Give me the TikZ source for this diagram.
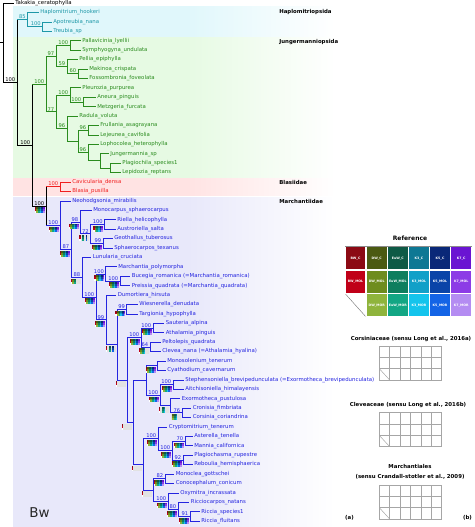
\documentclass[tikz,border=0pt]{standalone}
\usepackage{fontspec}
\setmainfont{DejaVu Sans}
\usetikzlibrary{calc}
\definecolor{hapc}{HTML}{1E98A8}
\definecolor{junc}{HTML}{2A8C1E}
\definecolor{blac}{HTML}{F02020}
\definecolor{marc}{HTML}{2424E0}
\definecolor{hapb}{HTML}{E0F7FB}
\definecolor{junb}{HTML}{E6FAE3}
\definecolor{blab}{HTML}{FFE3E3}
\definecolor{marb}{HTML}{E8E8FA}
\definecolor{icbg}{HTML}{E2E2E2}
\definecolor{ic11}{HTML}{8C0A14}\definecolor{ic12}{HTML}{C00018}\definecolor{ic13}{HTML}{FFFFFF}
\definecolor{ic21}{HTML}{4B5A12}\definecolor{ic22}{HTML}{6E8C1E}\definecolor{ic23}{HTML}{8FB43C}
\definecolor{ic31}{HTML}{0E5A46}\definecolor{ic32}{HTML}{0E7E5E}\definecolor{ic33}{HTML}{12A684}
\definecolor{ic41}{HTML}{0E7894}\definecolor{ic42}{HTML}{12A0C8}\definecolor{ic43}{HTML}{14C4EC}
\definecolor{ic51}{HTML}{0A2878}\definecolor{ic52}{HTML}{0A44A8}\definecolor{ic53}{HTML}{1464E6}
\definecolor{ic61}{HTML}{6A14D2}\definecolor{ic62}{HTML}{8C3CE6}\definecolor{ic63}{HTML}{B48CF2}
\pgfdeclarehorizontalshading{hapfade}{100bp}{color(0bp)=(hapb); color(52bp)=(hapb); color(75bp)=(white); color(100bp)=(white)}
\pgfdeclarehorizontalshading{junfade}{100bp}{color(0bp)=(junb); color(52bp)=(junb); color(75bp)=(white); color(100bp)=(white)}
\pgfdeclarehorizontalshading{blafade}{100bp}{color(0bp)=(blab); color(52bp)=(blab); color(75bp)=(white); color(100bp)=(white)}
\pgfdeclarehorizontalshading{marfade}{100bp}{color(0bp)=(marb); color(52bp)=(marb); color(75bp)=(white); color(100bp)=(white)}
\newcommand\lff{\fontsize{5.4}{6}\selectfont}
\newcommand\bsf{\fontsize{5.2}{6}\selectfont}
\newcommand\clf{\fontsize{5.4}{6}\selectfont\bfseries}
\newcommand\ttf{\fontsize{5.4}{6.5}\selectfont\bfseries}
\newcommand{\iconat}[2]{%
  \begin{scope}[shift={(#1)}]
    \fill[icbg] (-11.5,1.5) rectangle (-1.5,7.2);
    \foreach \ci in {#2}{\foreach \ri in {1,2,3}{%
      \pgfmathsetmacro\xa{-11.5+(\ci-1)*10/6}%
      \pgfmathsetmacro\ya{1.5+(\ri-1)*1.9}%
      \fill[ic\ci\ri] (\xa,\ya) rectangle ++(1.667,1.9);}}
  \end{scope}}
\begin{document}
\begin{tikzpicture}[x=1pt,y=-1pt,line width=0.6pt,
  lf/.style={anchor=west,inner xsep=1.5pt,inner ysep=0pt,font=\lff,text height=3.9pt,text depth=1.1pt},
  bs/.style={anchor=south east,inner sep=0pt,font=\bsf,xshift=-1.5pt,yshift=0.4pt},
  cl/.style={anchor=west,inner sep=0pt,font=\clf},
  ttl/.style={inner sep=0pt,font=\ttf},
  cell/.style={inner sep=0pt,font=\fontsize{3.2}{4}\selectfont\bfseries,text=white}]
\useasboundingbox (0,0) rectangle (474,527);
% background bands
\shade[shading=hapfade] (13,7) rectangle (335,36.3);
\shade[shading=junfade] (13,37.3) rectangle (335,177);
\shade[shading=blafade] (13,178.5) rectangle (335,195.5);
\shade[shading=marfade] (13,197) rectangle (335,526);
% internal nodes
\coordinate (r0) at (0,42.60);
\coordinate (root) at (3.3,42.60);
\coordinate (nA) at (17,82.20);
\coordinate (nH) at (27.5,19.49);
\coordinate (nAT) at (42.5,26.55);
\coordinate (nB) at (32,144.91);
\coordinate (nJ) at (46,83.88);
\coordinate (n97) at (56,55.99);
\coordinate (nPal) at (70,45.39);
\coordinate (nPel) at (67,66.59);
\coordinate (nMak) at (78,73.65);
\coordinate (n77) at (56,111.78);
\coordinate (nPle) at (70,94.85);
\coordinate (nAne) at (83,101.91);
\coordinate (nRad) at (67,128.70);
\coordinate (nX) at (78,141.36);
\coordinate (nFru) at (88,130.17);
\coordinate (nLop) at (88,152.55);
\coordinate (nJun) at (100,160.79);
\coordinate (nPla) at (110,167.85);
\coordinate (nM) at (46,205.94);
\coordinate (nBl) at (60,186.69);
\coordinate (nMd) at (60,225.19);
\coordinate (n87) at (71,249.55);
\coordinate (n98) at (80,222.02);
\coordinate (n72) at (90.5,233.79);
\coordinate (nRie) at (104.5,224.37);
\coordinate (nGeo) at (103,243.21);
\coordinate (n88) at (82,277.07);
\coordinate (nMD) at (96,296.80);
\coordinate (nMar) at (105.7,273.83);
\coordinate (nBuc) at (120,280.89);
\coordinate (nDum) at (106,319.77);
\coordinate (nR) at (117,344.52);
\coordinate (nWie) at (126.7,309.15);
\coordinate (nS) at (127,379.88);
\coordinate (nCle) at (141,337.41);
\coordinate (nSau) at (153,327.99);
\coordinate (nPel2) at (150,346.83);
\coordinate (nU) at (133,422.34);
\coordinate (nMCS) at (146,380.39);
\coordinate (nMon) at (157,365.67);
\coordinate (nSC) at (160,395.11);
\coordinate (nSte) at (173,384.51);
\coordinate (nExo) at (170,405.71);
\coordinate (nCro) at (182,412.77);
\coordinate (nU2) at (143,464.29);
\coordinate (nAyt) at (158,438.68);
\coordinate (nAM) at (172,450.45);
\coordinate (nAst) at (185,441.03);
\coordinate (nPla2) at (183,459.87);
\coordinate (nU3) at (153,489.90);
\coordinate (nMoC) at (165,478.71);
\coordinate (nRic) at (168,501.09);
\coordinate (nRcp) at (178,509.33);
\coordinate (nRia) at (190,516.39);
% leaves
\node[lf,text=black] (Tak) at (13.5,3.00) {Takakia\_ceratophylla};
\node[lf,text=hapc] (Hap) at (38.5,12.42) {Haplomitrium\_hookeri};
\node[lf,text=hapc] (Apo) at (51.5,21.84) {Apotreubia\_nana};
\node[lf,text=hapc] (Tre) at (51.5,31.26) {Treubia\_sp};
\node[lf,text=junc] (Pal) at (80.5,40.68) {Pallavicinia\_lyellii};
\node[lf,text=junc] (Sym) at (80.5,50.10) {Symphyogyna\_undulata};
\node[lf,text=junc] (Pel) at (77.5,59.52) {Pellia\_epiphylla};
\node[lf,text=junc] (Mak) at (87.5,68.94) {Makinoa\_crispata};
\node[lf,text=junc] (Fos) at (87.5,78.36) {Fossombronia\_foveolata};
\node[lf,text=junc] (Ple) at (80.5,87.78) {Pleurozia\_purpurea};
\node[lf,text=junc] (Ane) at (95.5,97.20) {Aneura\_pinguis};
\node[lf,text=junc] (Met) at (95.5,106.62) {Metzgeria\_furcata};
\node[lf,text=junc] (Rad) at (77.5,116.04) {Radula\_voluta};
\node[lf,text=junc] (Fru) at (98.5,125.46) {Frullania\_asagrayana};
\node[lf,text=junc] (Lej) at (98.5,134.88) {Lejeunea\_cavifolia};
\node[lf,text=junc] (Lop) at (98.5,144.30) {Lophocolea\_heterophylla};
\node[lf,text=junc] (Jun) at (108.5,153.72) {Jungermannia\_sp};
\node[lf,text=junc] (Plg) at (120.5,163.14) {Plagiochila\_species1};
\node[lf,text=junc] (Lep) at (120.5,172.56) {Lepidozia\_reptans};
\node[lf,text=blac] (Cav) at (70.5,181.98) {Cavicularia\_densa};
\node[lf,text=blac] (Bla) at (70.5,191.40) {Blasia\_pusilla};
\node[lf,text=marc] (Neo) at (70.5,200.82) {Neohodgsonia\_mirabilis};
\node[lf,text=marc] (Mon) at (91.5,210.24) {Monocarpus\_sphaerocarpus};
\node[lf,text=marc] (Rie) at (115.5,219.66) {Riella\_helicophylla};
\node[lf,text=marc] (Aus) at (115.5,229.08) {Austroriella\_salta};
\node[lf,text=marc] (Geo) at (112.5,238.50) {Geothallus\_tuberosus};
\node[lf,text=marc] (Sph) at (112.5,247.92) {Sphaerocarpos\_texanus};
\node[lf,text=marc] (Lun) at (91,257.34) {Lunularia\_cruciata};
\node[lf,text=marc] (Mar) at (116.5,266.76) {Marchantia\_polymorpha};
\node[lf,text=marc] (Buc) at (130,276.18) {Bucegia\_romanica (=Marchantia\_romanica)};
\node[lf,text=marc] (Pre) at (130,285.60) {Preissia\_quadrata (=Marchantia\_quadrata)};
\node[lf,text=marc] (Dum) at (116,295.02) {Dumortiera\_hirsuta};
\node[lf,text=marc] (Wie) at (137.5,304.44) {Wiesnerella\_denudata};
\node[lf,text=marc] (Tar) at (137.5,313.86) {Targionia\_hypophylla};
\node[lf,text=marc] (Sau) at (164,323.28) {Sauteria\_alpina};
\node[lf,text=marc] (Ath) at (164,332.70) {Athalamia\_pinguis};
\node[lf,text=marc] (Plt) at (160.5,342.12) {Peltolepis\_quadrata};
\node[lf,text=marc] (Clv) at (160.5,351.54) {Clevea\_nana (=Athalamia\_hyalina)};
\node[lf,text=marc] (Mos) at (165.5,360.96) {Monosolenium\_tenerum};
\node[lf,text=marc] (Cya) at (165.5,370.38) {Cyathodium\_cavernarum};
\node[lf,text=marc] (Ste) at (183.5,379.80) {Stephensoniella\_brevipedunculata (=Exormotheca\_brevipedunculata)};
\node[lf,text=marc] (Ait) at (183.5,389.22) {Aitchisoniella\_himalayensis};
\node[lf,text=marc] (Exo) at (180,398.64) {Exormotheca\_pustulosa};
\node[lf,text=marc] (Cro) at (191,408.06) {Cronisia\_fimbriata};
\node[lf,text=marc] (Cor) at (191,417.48) {Corsinia\_coriandrina};
\node[lf,text=marc] (Cry) at (167,426.90) {Cryptomitrium\_tenerum};
\node[lf,text=marc] (Ast) at (192.5,436.32) {Asterella\_tenella};
\node[lf,text=marc] (Man) at (192.5,445.74) {Mannia\_californica};
\node[lf,text=marc] (Plc) at (192.5,455.16) {Plagiochasma\_rupestre};
\node[lf,text=marc] (Reb) at (192.5,464.58) {Reboulia\_hemisphaerica};
\node[lf,text=marc] (Moc) at (174,474.00) {Monoclea\_gottschei};
\node[lf,text=marc] (Con) at (174,483.42) {Conocephalum\_conicum};
\node[lf,text=marc] (Oxy) at (178.5,492.84) {Oxymitra\_incrassata};
\node[lf,text=marc] (Rcp) at (189,502.26) {Ricciocarpos\_natans};
\node[lf,text=marc] (Rs1) at (199.5,511.68) {Riccia\_species1};
\node[lf,text=marc] (Rfl) at (199.5,521.10) {Riccia\_fluitans};
% black backbone
\draw[black,line width=0.8pt] (r0) -- (root);
\foreach \p/\c in {root/Tak,root/nA,nA/nB,nB/nM}{\draw[black,line width=0.8pt] (\p) |- (\c);}
\draw[black,line width=0.8pt] (nA) -- (nA |- nH);
\draw[hapc] (nA |- nH) -- (nH);
\draw[black,line width=0.8pt] (nB) -- (nB |- nJ);
\draw[junc] (nB |- nJ) -- (nJ);
\draw[black,line width=0.8pt] (nM) -- (nM |- nBl);
\draw[blac] (nM |- nBl) -- (nBl);
\draw[black,line width=0.8pt] (nM) -- (nM |- nMd);
\draw[marc] (nM |- nMd) -- (nMd);
% clades
\foreach \p/\c in {nH/Hap,nH/nAT,nAT/Apo,nAT/Tre}{\draw[hapc] (\p) |- (\c);}
\foreach \p/\c in {nJ/n97,nJ/n77,n97/nPal,n97/nPel,nPal/Pal,nPal/Sym,nPel/Pel,nPel/nMak,
  nMak/Mak,nMak/Fos,n77/nPle,n77/nRad,nPle/Ple,nPle/nAne,nAne/Ane,nAne/Met,nRad/Rad,nRad/nX,
  nX/nFru,nX/nLop,nFru/Fru,nFru/Lej,nLop/Lop,nLop/nJun,nJun/Jun,nJun/nPla,nPla/Plg,nPla/Lep}
  {\draw[junc] (\p) |- (\c);}
\foreach \p/\c in {nBl/Cav,nBl/Bla}{\draw[blac] (\p) |- (\c);}
\foreach \p/\c in {nMd/Neo,nMd/n87,n87/n98,n87/n88,n98/Mon,n98/n72,n72/nRie,n72/nGeo,
  nRie/Rie,nRie/Aus,nGeo/Geo,nGeo/Sph,n88/Lun,n88/nMD,nMD/nMar,nMD/nDum,nMar/Mar,nMar/nBuc,
  nBuc/Buc,nBuc/Pre,nDum/Dum,nDum/nR,nR/nWie,nR/nS,nWie/Wie,nWie/Tar,nS/nCle,nS/nU,
  nCle/nSau,nCle/nPel2,nSau/Sau,nSau/Ath,nPel2/Plt,nPel2/Clv,nU/nMCS,nU/nU2,nMCS/nMon,nMCS/nSC,
  nMon/Mos,nMon/Cya,nSC/nSte,nSC/nExo,nSte/Ste,nSte/Ait,nExo/Exo,nExo/nCro,nCro/Cro,nCro/Cor,
  nU2/nAyt,nU2/nU3,nAyt/Cry,nAyt/nAM,nAM/nAst,nAM/nPla2,nAst/Ast,nAst/Man,nPla2/Plc,nPla2/Reb,
  nU3/nMoC,nU3/nRic,nMoC/Moc,nMoC/Con,nRic/Oxy,nRic/nRcp,nRcp/Rcp,nRcp/nRia,nRia/Rs1,nRia/Rfl}
  {\draw[marc] (\p) |- (\c);}
% support values
\foreach \n/\v in {nA/100,nB/100,nM/100}{\node[bs,text=black] (b\n) at (\n) {\v};}
\foreach \n/\v in {nH/85,nAT/100}{\node[bs,text=hapc] (b\n) at (\n) {\v};}
\foreach \n/\v in {nJ/100,n97/97,nPal/100,nPel/59,nMak/60,n77/77,nPle/100,nAne/100,nRad/96,nFru/96,nLop/96}
  {\node[bs,text=junc] (b\n) at (\n) {\v};}
\node[bs,text=blac] (bnBl) at (nBl) {100};
\foreach \n/\v in {nMd/100,n87/87,n98/98,n72/72,nRie/100,nGeo/99,n88/88,nMD/100,nMar/100,nBuc/100,
  nDum/99,nWie/99,nCle/100,nSau/100,nPel2/64,nSC/100,nSte/100,nCro/76,nAyt/100,nAM/100,nAst/70,
  nPla2/92,nMoC/82,nRic/100,nRcp/80,nRia/91}
  {\node[bs,text=marc] (b\n) at (\n) {\v};}
% character icons
\foreach \n in {nM,nMd,n87,n98,nRie,nGeo,nMD,nMar,nBuc,nDum,nWie,nCle,nSau,nMon,nSC,nSte,
  nAyt,nAM,nAst,nPla2,nMoC,nRic,nRcp,nRia}{\iconat{\n}{1,2,3,4,5,6}}
\foreach \n in {nS,nU,nU2,nU3}{\iconat{\n}{1}}
\foreach \n in {n72,nR}{\iconat{\n}{1,3,5}}
\iconat{n88}{1,2,3}
\iconat{nPel2}{1,2,3,4}
\iconat{nExo}{1,3,4}
\iconat{nCro}{2,3,4}
% clade names
\node[cl] (cH) at (279,11.7) {Haplomitriopsida};
\node[cl] (cJ) at (279,41.7) {Jungermanniopsida};
\node[cl] (cB) at (279,182.7) {Blasiidae};
\node[cl] (cM) at (279,201) {Marchantiidae};
\node[anchor=base west,inner sep=0pt,font=\fontsize{13.5}{14}\selectfont,text=black!85] (bw) at (29,517.5) {Bw};
% reference grid
\node[inner sep=0pt,font=\fontsize{6}{7}\selectfont\bfseries] (tref) at (410,238) {Reference};
\fill[black!45] (344.6,246.3) rectangle (472,317.4);
\foreach \ci/\pre in {1/BW,2/DW,3/EuW,4/K3,5/K5,6/K7}{
  \foreach \ri/\suf in {1/C,2/MOL,3/MOR}{
    \pgfmathsetmacro\xa{345+(\ci-1)*21.12}
    \pgfmathsetmacro\ya{246.7+(\ri-1)*23.43}
    \fill[white] (\xa,\ya) rectangle ++(21.12,23.43);
    \ifnum\ci\ri=13
      \draw[black!55,line width=0.4pt] (\xa+0.6,\ya+0.6) -- (\xa+20.5,\ya+22.8);
    \else
      \fill[ic\ci\ri] (\xa+0.7,\ya+0.7) rectangle ++(19.7,22.0);
      \node[cell] at (\xa+10.56,\ya+11.7) {\pre\_\suf};
    \fi}}
% empty grids
\node[ttl] (t1) at (411,339.5) {Corsiniaceae (sensu Long et al., 2016a)};
\node[ttl] (t2) at (408,405) {Cleveaceae (sensu Long et al., 2016b)};
\node[ttl] (t3) at (410,466) {Marchantiales};
\node[ttl] (t4) at (410,476.5) {(sensu Crandall-stotler et al., 2009)};
\foreach \yo in {346,412.7,485}{
  \draw[black!35,line width=0.5pt] (379.3,\yo) rectangle (441.7,\yo+34);
  \foreach \k in {1,...,5}{\draw[black!35,line width=0.5pt] (379.3+\k*10.4,\yo) -- (379.3+\k*10.4,\yo+34);}
  \foreach \k in {1,2}{\draw[black!35,line width=0.5pt] (379.3,\yo+\k*11.33) -- (441.7,\yo+\k*11.33);}
  \draw[black!35,line width=0.5pt] (379.3,\yo+22.67) -- (389.7,\yo+34);}
\node[ttl] (pa) at (349.5,518) {(a)};
\node[ttl] (pb) at (467.5,518) {(b)};
\end{tikzpicture}
\end{document}
